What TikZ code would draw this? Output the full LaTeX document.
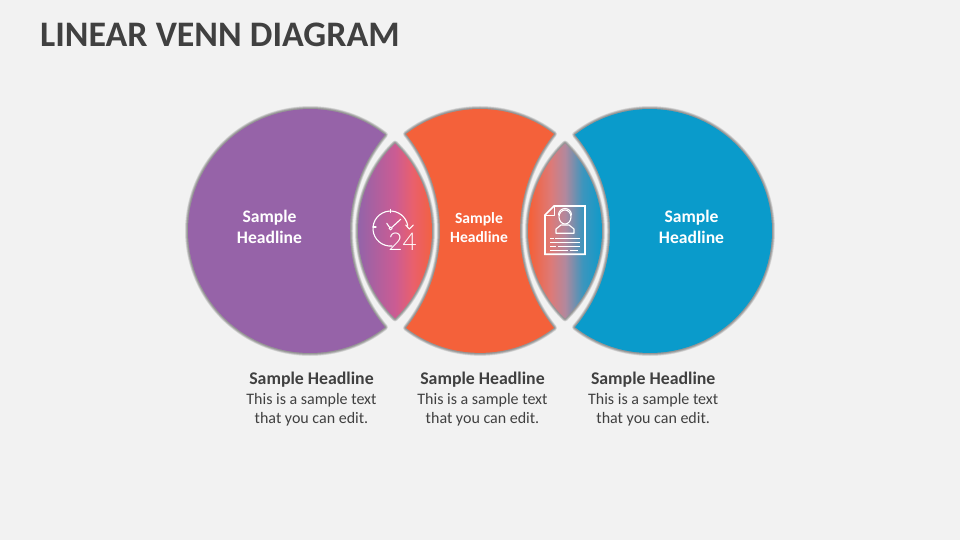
\documentclass[tikz,border=0pt]{standalone}
\usepackage{fontspec}
\setmainfont{Carlito}
\newfontfamily\thinfont{Lato Light}
\definecolor{bg}{HTML}{F2F2F2}
\definecolor{ink}{HTML}{404040}
\definecolor{vpurple}{HTML}{9663A8}
\definecolor{vorange}{HTML}{F4613A}
\definecolor{vblue}{HTML}{0A9BCB}
\definecolor{vpink}{HTML}{CB5C93}
\definecolor{vrose}{HTML}{E9606D}
\definecolor{vmauve}{HTML}{B3889D}
\definecolor{vsalmon}{HTML}{DD7A78}
\pgfdeclarehorizontalshading{lensa}{100bp}{color(0bp)=(vpurple);color(30bp)=(vpurple);color(50bp)=(vpink);color(60bp)=(vrose);color(73bp)=(vorange);color(100bp)=(vorange)}
\pgfdeclarehorizontalshading{lensb}{100bp}{color(0bp)=(vorange);color(30bp)=(vorange);color(42bp)=(vsalmon);color(50bp)=(vmauve);color(60bp)=(vblue!70!vmauve);color(72bp)=(vblue);color(100bp)=(vblue)}
\newcommand{\purplepath}{(385,405.2) arc[start angle=52.06,end angle=307.94,radius=122] arc[start angle=220,end angle=140,radius=149.7] -- cycle}
\newcommand{\orangepath}{(554,406) arc[start angle=52.66,end angle=127.34,radius=122] arc[start angle=38.6,end angle=-38.6,radius=155.4] arc[start angle=232.66,end angle=307.34,radius=122] arc[start angle=218.6,end angle=141.4,radius=155.4] -- cycle}
\newcommand{\lensapath}{(395,396.5) arc[start angle=134.17,end angle=225.83,radius=122] arc[start angle=-45.83,end angle=45.83,radius=122] -- cycle}
\newcommand{\lensbpath}{(565,396.5) arc[start angle=134.17,end angle=225.83,radius=122] arc[start angle=-45.83,end angle=45.83,radius=122] -- cycle}
\newcommand{\bluefull}{(575,405.2) arc[start angle=127.94,end angle=-127.94,radius=122] arc[start angle=-40,end angle=40,radius=149.7] -- cycle}
\newcommand{\halo}[1]{%
  \foreach \w in {6,5,4,3,2}{\draw[black,opacity=.09,line width=\w pt,line join=round] #1;}}
\tikzset{
  x=1pt,y=1pt,
  titletext/.style={font=\fontsize{35.9}{40}\selectfont\bfseries,text=ink,anchor=base west,inner sep=0pt},
  inhead/.style={font=\fontsize{17.6}{18}\selectfont\bfseries,text=white,anchor=base,inner sep=0pt},
  inheadsm/.style={font=\fontsize{15.6}{18}\selectfont\bfseries,text=white,anchor=base,inner sep=0pt},
  caphead/.style={font=\fontsize{17.8}{18}\selectfont\bfseries,text=ink,anchor=base,inner sep=0pt},
  captext/.style={font=\fontsize{16}{18}\selectfont,text=ink,anchor=base,inner sep=0pt},
  iconline/.style={draw=white,line width=1.1pt,line cap=round,line join=round},
  iconbold/.style={draw=white,line width=1.7pt,line join=miter},
}
\begin{document}
\begin{tikzpicture}
\useasboundingbox (0,0) rectangle (960,540);
\fill[bg] (0,0) rectangle (960,540);
\node[titletext] (title) at (40,493.3) {LINEAR VENN DIAGRAM};
% shapes
\halo{\purplepath}\halo{\orangepath}\halo{\bluefull}\halo{\lensapath}\halo{\lensbpath}
\fill[vpurple] \purplepath;
\fill[vorange] \orangepath;
\fill[vblue] \bluefull;
\shade[shading=lensa] \lensapath;
\shade[shading=lensb] \lensbpath;
% clock icon
\draw[iconline] (392,294) arc[start angle=-85,end angle=-350,radius=17.5];
\draw[iconline] (405.7,315) -- (409.3,311) -- (413.3,315);
\draw[iconline] (390.5,330.5) -- (390.5,327.5) (373,313) -- (376,313);
\draw[iconline] (386.7,316.7) -- (389.7,312.5) (391.7,312.5) -- (400.7,320.7);
\draw[white,line width=.8pt] (390.7,311.5) circle (1.4);
\node[inner sep=0pt,anchor=base,text=white,font=\fontsize{24.5}{24}\thinfont] (num) at (402.5,289.5) {24};
% document icon
\draw[iconbold] (554,334) -- (585,334) -- (585,285.7) -- (545,285.7) -- (545,325) -- cycle;
\draw[iconline,line width=.9pt] (554,334) -- (554,325) -- (545,325);
\draw[iconline] (565,323) ellipse (6 and 7);
\draw[iconline] (558.5,325) arc[start angle=180,end angle=0,radius=6.5];
\draw[iconline] (556,306.7) -- (556,311) -- (561,315) -- (569,315) -- (574,311) -- (574,306.7) -- cycle;
\draw[white,line width=1.2pt] (550,301.7) -- (553.5,301.7) (555,301.7) -- (580,301.7)
  (550,297.7) -- (580,297.7)
  (550,293.3) -- (556,293.3) (557.5,293.3) -- (580,293.3)
  (550,289.3) -- (568,289.3) (570,289.3) -- (578,289.3);
% labels
\node[inhead] (a1) at (269.5,317.3) {Sample};
\node[inhead] (a2) at (269.5,296.3) {Headline};
\node[inheadsm] (b1) at (479,316.3) {Sample};
\node[inheadsm] (b2) at (479,297.3) {Headline};
\node[inhead] (c1) at (691.5,317.3) {Sample};
\node[inhead] (c2) at (691.5,296.3) {Headline};
\foreach \n/\cx in {p/311.5,q/482.5,r/653.2}{
  \node[caphead] (\n h) at (\cx,155.7) {Sample Headline};
  \node[captext] (\n a) at (\cx,135.7) {This is a sample text};
  \node[captext] (\n b) at (\cx,116.7) {that you can edit.};
}
\end{tikzpicture}
\end{document}
